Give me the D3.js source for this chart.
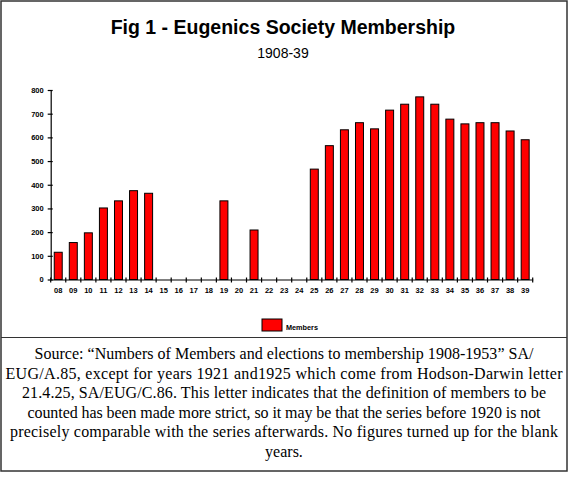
<!DOCTYPE html>
<html>
<head>
<meta charset="utf-8">
<script src="https://cdn.jsdelivr.net/npm/d3@7"></script>
<style>
  body { margin: 0; background: #fff; }
  svg { display: block; }
  .tick text { font-family: 'Liberation Sans'; font-weight: bold; font-size: 7.5px; fill: #000; }
</style>
</head>
<body>
<script>
// membership by year, 1908-39 (null = no figure found)
var years = ["08","09","10","11","12","13","14","15","16","17","18","19","20","21","22","23",
  "24","25","26","27","28","29","30","31","32","33","34","35","36","37","38","39"];
var members = [115, 156, 197, 302, 332, 375, 364, null, null, null, null, 332, null, 209, null, null,
  null, 466, 565, 632, 662, 636, 715, 740, 771, 740, 677, 657, 662, 662, 627, 590];
var yTicks = [0, 100, 200, 300, 400, 500, 600, 700, 800];

var title = "Fig 1 - Eugenics Society Membership",
  subtitle = "1908-39",
  seriesName = "Members";
var sourceLines = [
  "Source: \u201cNumbers of Members and elections to membership 1908-1953\u201d SA/",
  "EUG/A.85, except for years 1921  and1925 which come from Hodson-Darwin letter",
  "21.4.25, SA/EUG/C.86.  This letter indicates that the definition of members to be",
  "counted has been made more strict, so it may be that the series before 1920 is not",
  "precisely comparable with the series afterwards.  No figures turned up for the blank",
  "years."
];
var sourceWidths = [499, 557, 524, 513, 548, null];

var svg = d3.select("body").append("svg")
  .attr("width", 576)
  .attr("height", 480);

// frame + divider
svg.append("rect")
  .attr("x", 1).attr("y", 1)
  .attr("width", 566).attr("height", 470)
  .attr("fill", "#fff")
  .attr("stroke", "#333")
  .attr("stroke-width", 1.5);
svg.append("line")
  .attr("x1", 1).attr("x2", 567)
  .attr("y1", 337.5).attr("y2", 337.5)
  .attr("stroke", "#333")
  .attr("stroke-width", 1.2);

svg.append("text")
  .attr("x", 283).attr("y", 34)
  .attr("text-anchor", "middle")
  .style("font-family", "'Liberation Sans'")
  .style("font-weight", "bold")
  .style("font-size", "19.5px")
  .text(title);
svg.append("text")
  .attr("x", 283).attr("y", 58)
  .attr("text-anchor", "middle")
  .style("font-family", "'Liberation Sans'")
  .style("font-size", "14px")
  .text(subtitle);

var x = d3.scaleBand()
  .domain(years)
  .range([50.7, 532.7])
  .paddingInner(0.47)
  .paddingOuter(0.235);
var y = d3.scaleLinear()
  .domain([0, 800])
  .range([279.5, 90]);

var main = svg.append("g");

// bars
main.selectAll("rect.bar")
  .data(years.map(function (d, i) { return {year: d, value: members[i]}; })
    .filter(function (d) { return d.value != null; }))
  .enter().append("rect")
  .attr("class", "bar")
  .attr("x", function (d) { return x(d.year); })
  .attr("y", function (d) { return y(d.value); })
  .attr("width", x.bandwidth())
  .attr("height", function (d) { return y(0) - y(d.value); })
  .attr("fill", "#ff0000")
  .attr("stroke", "#000")
  .attr("stroke-width", 1);

// y axis
var yAxis = main.append("g")
  .attr("transform", "translate(50.7,0)")
  .call(d3.axisLeft(y).tickValues(yTicks).tickSizeOuter(0).tickSizeInner(3).tickPadding(4));
yAxis.select(".domain").attr("stroke", "#000").attr("stroke-width", 1.2);
yAxis.selectAll(".tick line").attr("x1", 2).attr("stroke-width", 1.2);

// x axis: labels centred on bars, ticks on band edges
var xAxis = main.append("g")
  .attr("transform", "translate(0," + y(0) + ")")
  .call(d3.axisBottom(x).tickSize(0).tickSizeOuter(0).tickPadding(8));
xAxis.select(".domain").attr("stroke", "#000").attr("stroke-width", 1.2);
var edges = years.map(function (d) { return x(d) - x.step() * x.paddingInner() / 2; });
edges.push(x.range()[1]);
xAxis.selectAll("line.edge")
  .data(edges)
  .enter().append("line")
  .attr("class", "edge")
  .attr("x1", function (d) { return d; })
  .attr("x2", function (d) { return d; })
  .attr("y1", -2).attr("y2", 3)
  .attr("stroke", "#000")
  .attr("stroke-width", 1.2);

// legend
var legend = svg.append("g").attr("transform", "translate(262,319)");
legend.append("rect")
  .attr("width", 20).attr("height", 12)
  .attr("fill", "#ff0000")
  .attr("stroke", "#000");
legend.append("text")
  .attr("x", 24).attr("y", 10.5)
  .style("font-family", "'Liberation Sans'")
  .style("font-weight", "bold")
  .style("font-size", "7px")
  .attr("textLength", 32)
  .attr("lengthAdjust", "spacingAndGlyphs")
  .text(seriesName);

// source note
svg.selectAll("text.src")
  .data(sourceLines)
  .enter().append("text")
  .attr("class", "src")
  .attr("x", 284)
  .attr("y", function (d, i) { return 359 + i * 19.6; })
  .attr("text-anchor", "middle")
  .style("font-family", "'Liberation Serif'")
  .style("font-size", "16px")
  .each(function (d, i) {
    if (sourceWidths[i]) d3.select(this).attr("textLength", sourceWidths[i]).attr("lengthAdjust", "spacing");
  })
  .text(function (d) { return d; });
</script>
</body>
</html>
